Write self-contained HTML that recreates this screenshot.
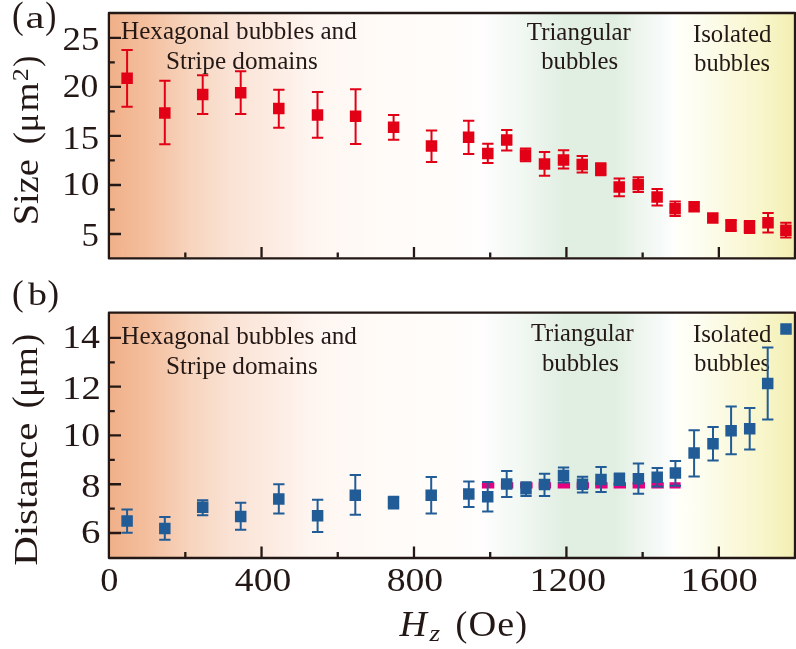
<!DOCTYPE html>
<html><head><meta charset="utf-8"><style>
html,body{margin:0;padding:0;background:#fff;width:796px;height:649px;overflow:hidden}
svg{display:block;font-family:"Liberation Serif",serif;will-change:transform}
</style></head><body><svg width="796" height="649" viewBox="0 0 796 649" font-family="Liberation Serif"><defs><linearGradient id="g1" gradientUnits="userSpaceOnUse" x1="109" y1="0" x2="795" y2="0"><stop offset="0.0000" stop-color="#f0b088"/><stop offset="0.0598" stop-color="#f4c0a0"/><stop offset="0.1210" stop-color="#f7d5be"/><stop offset="0.1764" stop-color="#fae2d4"/><stop offset="0.2493" stop-color="#fdede4"/><stop offset="0.2930" stop-color="#fef5f0"/><stop offset="0.3805" stop-color="#fffaf6"/><stop offset="0.4679" stop-color="#fffcf9"/><stop offset="0.5496" stop-color="#fffdfd"/><stop offset="0.5525" stop-color="#fbfdfb"/><stop offset="0.5773" stop-color="#f6faf7"/><stop offset="0.6064" stop-color="#f0f7f1"/><stop offset="0.6429" stop-color="#e6f1e7"/><stop offset="0.6647" stop-color="#e1efe2"/><stop offset="0.7391" stop-color="#e1efe2"/><stop offset="0.7741" stop-color="#eef5ee"/><stop offset="0.8032" stop-color="#f6faf7"/><stop offset="0.8236" stop-color="#fdfefd"/><stop offset="0.8265" stop-color="#fffffa"/><stop offset="0.8615" stop-color="#fdfdf0"/><stop offset="0.9198" stop-color="#faf8d8"/><stop offset="0.9490" stop-color="#f8f6cc"/><stop offset="0.9781" stop-color="#f5f2be"/><stop offset="1.0000" stop-color="#f2eeb0"/></linearGradient></defs><rect x="108.9" y="13.0" width="686.1" height="245.40" fill="url(#g1)"/><rect x="108.9" y="312.7" width="686.1" height="245.30" fill="url(#g1)"/><g fill="#231815"><text x="121.08" y="38.80" font-size="25" textLength="235.63" lengthAdjust="spacingAndGlyphs" >Hexagonal bubbles and</text><text x="165.92" y="68.60" font-size="25" textLength="151.79" lengthAdjust="spacingAndGlyphs" >Stripe domains</text><text x="526.85" y="39.50" font-size="25" textLength="104.06" lengthAdjust="spacingAndGlyphs" >Triangular</text><text x="541.20" y="68.90" font-size="25" textLength="76.89" lengthAdjust="spacingAndGlyphs" >bubbles</text><text x="692.90" y="42.00" font-size="25" textLength="78.50" lengthAdjust="spacingAndGlyphs" >Isolated</text><text x="694.30" y="71.10" font-size="25" textLength="75.78" lengthAdjust="spacingAndGlyphs" >bubbles</text></g><path d="M127.1 50.0V106.8M121.4 50.0h11.3M121.4 106.8h11.3M164.8 80.7V144.3M159.2 80.7h11.3M159.2 144.3h11.3M202.7 75.2V114.1M197.0 75.2h11.3M197.0 114.1h11.3M240.7 71.2V114.1M235.0 71.2h11.3M235.0 114.1h11.3M278.8 89.7V127.7M273.2 89.7h11.3M273.2 127.7h11.3M317.5 92.0V137.8M311.9 92.0h11.3M311.9 137.8h11.3M355.6 89.2V143.9M350.0 89.2h11.3M350.0 143.9h11.3M393.6 115.0V139.7M388.0 115.0h11.3M388.0 139.7h11.3M431.5 130.6V162.0M425.9 130.6h11.3M425.9 162.0h11.3M468.6 120.7V153.9M463.0 120.7h11.3M463.0 153.9h11.3M487.8 143.7V163.1M482.2 143.7h11.3M482.2 163.1h11.3M506.7 129.9V150.4M501.1 129.9h11.3M501.1 150.4h11.3M525.5 148.6V161.2M519.9 148.6h11.3M519.9 161.2h11.3M544.5 152.0V175.8M538.9 152.0h11.3M538.9 175.8h11.3M563.5 150.2V168.5M557.9 150.2h11.3M557.9 168.5h11.3M582.2 156.0V172.4M576.6 156.0h11.3M576.6 172.4h11.3M600.8 163.2V175.2M595.1 163.2h11.3M595.1 175.2h11.3M619.2 178.5V196.2M613.6 178.5h11.3M613.6 196.2h11.3M638.2 177.2V192.0M632.6 177.2h11.3M632.6 192.0h11.3M657.1 189.0V205.6M651.5 189.0h11.3M651.5 205.6h11.3M675.1 201.4V216.1M669.5 201.4h11.3M669.5 216.1h11.3M731.0 220.0V231.0M725.4 220.0h11.3M725.4 231.0h11.3M749.5 221.1V232.9M743.9 221.1h11.3M743.9 232.9h11.3M768.0 213.0V232.6M762.4 213.0h11.3M762.4 232.6h11.3M785.9 222.8V237.6M780.2 222.8h11.3M780.2 237.6h11.3" stroke="#e20017" stroke-width="2.0" fill="none"/><path d="M121.35 72.45h11.5v11.5h-11.5zM159.05 107.15h11.5v11.5h-11.5zM196.95 88.75h11.5v11.5h-11.5zM234.95 87.05h11.5v11.5h-11.5zM273.05 102.85h11.5v11.5h-11.5zM311.75 109.25h11.5v11.5h-11.5zM349.85 110.45h11.5v11.5h-11.5zM387.85 121.55h11.5v11.5h-11.5zM425.75 140.25h11.5v11.5h-11.5zM462.85 131.45h11.5v11.5h-11.5zM482.05 147.75h11.5v11.5h-11.5zM500.95 134.25h11.5v11.5h-11.5zM519.75 149.15h11.5v11.5h-11.5zM538.75 158.25h11.5v11.5h-11.5zM557.75 154.15h11.5v11.5h-11.5zM576.45 158.65h11.5v11.5h-11.5zM595.05 163.45h11.5v11.5h-11.5zM613.45 181.35h11.5v11.5h-11.5zM632.45 178.85h11.5v11.5h-11.5zM651.35 191.15h11.5v11.5h-11.5zM669.35 203.05h11.5v11.5h-11.5zM688.35 201.05h11.5v11.5h-11.5zM707.05 212.15h11.5v11.5h-11.5zM725.25 219.75h11.5v11.5h-11.5zM743.75 221.25h11.5v11.5h-11.5zM762.25 217.05h11.5v11.5h-11.5zM780.15 224.45h11.5v11.5h-11.5z" fill="#e20017"/><path d="M110 234.01H121M110 184.99H121M110 135.96H121M110 86.94H121M110 37.91H121M110 209.50H114.8M110 160.47H114.8M110 111.45H114.8M110 62.42H114.8" stroke="#231815" stroke-width="2.3"/><path d="M185.32 257.40V252.40M261.54 257.40V246.90M337.76 257.40V252.40M413.98 257.40V246.90M490.20 257.40V252.40M566.42 257.40V246.90M642.64 257.40V252.40M718.86 257.40V246.90M795.08 257.40V252.40" stroke="#231815" stroke-width="2.3"/><rect x="108.9" y="13.0" width="686.1" height="245.40" fill="none" stroke="#231815" stroke-width="2.3" stroke-linejoin="round"/><g fill="#231815"><text x="121.28" y="343.90" font-size="25" textLength="235.63" lengthAdjust="spacingAndGlyphs" >Hexagonal bubbles and</text><text x="165.92" y="373.50" font-size="25" textLength="151.79" lengthAdjust="spacingAndGlyphs" >Stripe domains</text><text x="530.96" y="341.40" font-size="25" textLength="102.75" lengthAdjust="spacingAndGlyphs" >Triangular</text><text x="542.00" y="371.10" font-size="25" textLength="76.89" lengthAdjust="spacingAndGlyphs" >bubbles</text><text x="692.90" y="341.60" font-size="25" textLength="78.50" lengthAdjust="spacingAndGlyphs" >Isolated</text><text x="694.30" y="371.20" font-size="25" textLength="75.78" lengthAdjust="spacingAndGlyphs" >bubbles</text></g><path d="M481.9 482.2h12.4v6.4h-12.4zM500.9 482.2h12.4v6.4h-12.4zM520.2 482.2h12.4v6.4h-12.4zM538.7 482.2h12.4v6.4h-12.4zM557.7 482.2h12.4v6.4h-12.4zM576.7 482.2h12.4v6.4h-12.4zM595.2 482.2h12.4v6.4h-12.4zM613.6 482.2h12.4v6.4h-12.4zM632.6 482.2h12.4v6.4h-12.4zM651.4 482.2h12.4v6.4h-12.4zM669.6 482.2h11.0v6.4h-11.0z" fill="#e4007f"/><path d="M127.1 509.4V532.8M121.4 509.4h11.3M121.4 532.8h11.3M164.8 517.0V539.8M159.2 517.0h11.3M159.2 539.8h11.3M202.7 500.2V515.2M197.0 500.2h11.3M197.0 515.2h11.3M240.7 502.7V529.8M235.0 502.7h11.3M235.0 529.8h11.3M278.8 484.3V513.5M273.2 484.3h11.3M273.2 513.5h11.3M317.6 499.7V532.1M312.0 499.7h11.3M312.0 532.1h11.3M355.3 475.1V514.8M349.7 475.1h11.3M349.7 514.8h11.3M393.5 496.7V508.5M387.9 496.7h11.3M387.9 508.5h11.3M431.2 477.1V513.5M425.6 477.1h11.3M425.6 513.5h11.3M468.8 481.4V507.0M463.2 481.4h11.3M463.2 507.0h11.3M487.7 482.0V511.5M482.1 482.0h11.3M482.1 511.5h11.3M506.7 470.9V496.9M501.1 470.9h11.3M501.1 496.9h11.3M526.0 482.3V496.0M520.4 482.3h11.3M520.4 496.0h11.3M544.5 473.7V496.0M538.9 473.7h11.3M538.9 496.0h11.3M563.5 467.4V482.5M557.9 467.4h11.3M557.9 482.5h11.3M582.5 476.7V492.5M576.9 476.7h11.3M576.9 492.5h11.3M601.0 467.0V492.0M595.4 467.0h11.3M595.4 492.0h11.3M619.4 473.6V485.0M613.8 473.6h11.3M613.8 485.0h11.3M638.4 463.5V493.7M632.8 463.5h11.3M632.8 493.7h11.3M657.2 468.0V486.4M651.6 468.0h11.3M651.6 486.4h11.3M675.4 460.9V485.8M669.8 460.9h11.3M669.8 485.8h11.3M694.1 430.2V476.5M688.5 430.2h11.3M688.5 476.5h11.3M713.0 427.1V460.4M707.4 427.1h11.3M707.4 460.4h11.3M731.1 406.6V454.3M725.5 406.6h11.3M725.5 454.3h11.3M749.7 408.0V449.6M744.1 408.0h11.3M744.1 449.6h11.3M767.7 347.5V419.6M762.1 347.5h11.3M762.1 419.6h11.3" stroke="#215c96" stroke-width="2.0" fill="none"/><path d="M121.35 515.25h11.5v11.5h-11.5zM159.05 522.75h11.5v11.5h-11.5zM196.95 501.45h11.5v11.5h-11.5zM234.95 510.75h11.5v11.5h-11.5zM273.05 493.15h11.5v11.5h-11.5zM311.85 510.05h11.5v11.5h-11.5zM349.55 489.45h11.5v11.5h-11.5zM387.75 496.85h11.5v11.5h-11.5zM425.45 489.45h11.5v11.5h-11.5zM463.05 488.15h11.5v11.5h-11.5zM481.95 490.95h11.5v11.5h-11.5zM500.95 478.25h11.5v11.5h-11.5zM520.25 482.95h11.5v11.5h-11.5zM538.75 478.85h11.5v11.5h-11.5zM557.75 469.65h11.5v11.5h-11.5zM576.75 478.55h11.5v11.5h-11.5zM595.25 473.75h11.5v11.5h-11.5zM613.65 473.55h11.5v11.5h-11.5zM632.65 473.05h11.5v11.5h-11.5zM651.45 471.55h11.5v11.5h-11.5zM669.65 467.15h11.5v11.5h-11.5zM688.35 447.25h11.5v11.5h-11.5zM707.25 438.05h11.5v11.5h-11.5zM725.35 424.95h11.5v11.5h-11.5zM743.95 423.05h11.5v11.5h-11.5zM761.95 377.75h11.5v11.5h-11.5zM780.25 323.15h11.5v11.5h-11.5z" fill="#215c96"/><path d="M110 533.01H121M110 484.23H121M110 435.45H121M110 386.67H121M110 337.89H121M110 508.62H114.8M110 459.84H114.8M110 411.06H114.8M110 362.28H114.8" stroke="#231815" stroke-width="2.3"/><path d="M185.32 557.00V552.00M261.54 557.00V546.50M337.76 557.00V552.00M413.98 557.00V546.50M490.20 557.00V552.00M566.42 557.00V546.50M642.64 557.00V552.00M718.86 557.00V546.50M795.08 557.00V552.00" stroke="#231815" stroke-width="2.3"/><rect x="108.9" y="312.7" width="686.1" height="245.30" fill="none" stroke="#231815" stroke-width="2.3" stroke-linejoin="round"/><g fill="#231815"><text x="62.58" y="49.87" font-size="34" textLength="36.86" lengthAdjust="spacingAndGlyphs" >25</text><text x="62.73" y="96.87" font-size="34" textLength="35.62" lengthAdjust="spacingAndGlyphs" >20</text><text x="62.37" y="148.67" font-size="34" textLength="36.77" lengthAdjust="spacingAndGlyphs" >15</text><text x="61.90" y="194.57" font-size="34" textLength="37.53" lengthAdjust="spacingAndGlyphs" >10</text><text x="81.58" y="245.67" font-size="34" textLength="17.38" lengthAdjust="spacingAndGlyphs" >5</text><text x="62.18" y="348.10" font-size="34" textLength="37.81" lengthAdjust="spacingAndGlyphs" >14</text><text x="62.09" y="398.80" font-size="34" textLength="38.74" lengthAdjust="spacingAndGlyphs" >12</text><text x="62.48" y="445.87" font-size="34" textLength="37.76" lengthAdjust="spacingAndGlyphs" >10</text><text x="81.24" y="496.67" font-size="34" textLength="19.23" lengthAdjust="spacingAndGlyphs" >8</text><text x="81.03" y="543.07" font-size="34" textLength="19.43" lengthAdjust="spacingAndGlyphs" >6</text><text x="100.32" y="591.37" font-size="34" textLength="18.17" lengthAdjust="spacingAndGlyphs" >0</text><text x="234.87" y="591.07" font-size="34" textLength="56.37" lengthAdjust="spacingAndGlyphs" >400</text><text x="386.66" y="591.27" font-size="34" textLength="56.57" lengthAdjust="spacingAndGlyphs" >800</text><text x="529.64" y="591.07" font-size="34" textLength="76.41" lengthAdjust="spacingAndGlyphs" >1200</text><text x="680.60" y="591.27" font-size="34" textLength="77.27" lengthAdjust="spacingAndGlyphs" >1600</text><text x="11.96" y="28.43" font-size="36.95" textLength="11.67" lengthAdjust="spacingAndGlyphs" >(</text><text x="45.32" y="28.43" font-size="36.95" textLength="11.15" lengthAdjust="spacingAndGlyphs" >)</text><text x="25.50" y="27.60" font-size="32" textLength="18.99" lengthAdjust="spacingAndGlyphs" >a</text><text x="11.96" y="304.88" font-size="36.73" textLength="11.67" lengthAdjust="spacingAndGlyphs" >(</text><text x="47.48" y="304.88" font-size="36.73" textLength="11.54" lengthAdjust="spacingAndGlyphs" >)</text><text x="28.00" y="304.50" font-size="32" textLength="18.94" lengthAdjust="spacingAndGlyphs" >b</text><g transform="translate(38.2,223) rotate(-90)"><text x="-2.27" y="0.00" font-size="36" textLength="66.21" lengthAdjust="spacingAndGlyphs" >Size</text><text x="78.81" y="0.00" font-size="36" textLength="12.06" lengthAdjust="spacingAndGlyphs" >(</text><text x="90.86" y="0.00" font-size="34" textLength="18.77" lengthAdjust="spacingAndGlyphs" >μ</text><text x="111.42" y="0.00" font-size="34" textLength="29.07" lengthAdjust="spacingAndGlyphs" >m</text><text x="141.66" y="-10.30" font-size="24" textLength="12.97" lengthAdjust="spacingAndGlyphs" >2</text><text x="156.23" y="0.00" font-size="36" textLength="11.02" lengthAdjust="spacingAndGlyphs" >)</text></g><g transform="translate(36.8,565) rotate(-90)"><text x="-0.88" y="0.00" font-size="34" textLength="143.30" lengthAdjust="spacingAndGlyphs" >Distance</text><text x="156.83" y="0.00" font-size="36" textLength="11.93" lengthAdjust="spacingAndGlyphs" >(</text><text x="168.28" y="0.00" font-size="34" textLength="18.65" lengthAdjust="spacingAndGlyphs" >μ</text><text x="188.82" y="0.00" font-size="34" textLength="29.07" lengthAdjust="spacingAndGlyphs" >m</text><text x="219.72" y="0.00" font-size="36" textLength="11.15" lengthAdjust="spacingAndGlyphs" >)</text></g><text x="399.41" y="635.80" font-size="35" textLength="27.30" lengthAdjust="spacingAndGlyphs" font-style="italic" >H</text><text x="429.61" y="640.50" font-size="23" textLength="10.65" lengthAdjust="spacingAndGlyphs" font-style="italic" >z</text><text x="455.44" y="636.04" font-size="36" textLength="11.80" lengthAdjust="spacingAndGlyphs" >(</text><text x="468.52" y="635.90" font-size="35" textLength="27.75" lengthAdjust="spacingAndGlyphs" >O</text><text x="497.21" y="635.90" font-size="35" textLength="16.91" lengthAdjust="spacingAndGlyphs" >e</text><text x="515.16" y="636.04" font-size="36" textLength="11.80" lengthAdjust="spacingAndGlyphs" >)</text></g></svg></body></html>
